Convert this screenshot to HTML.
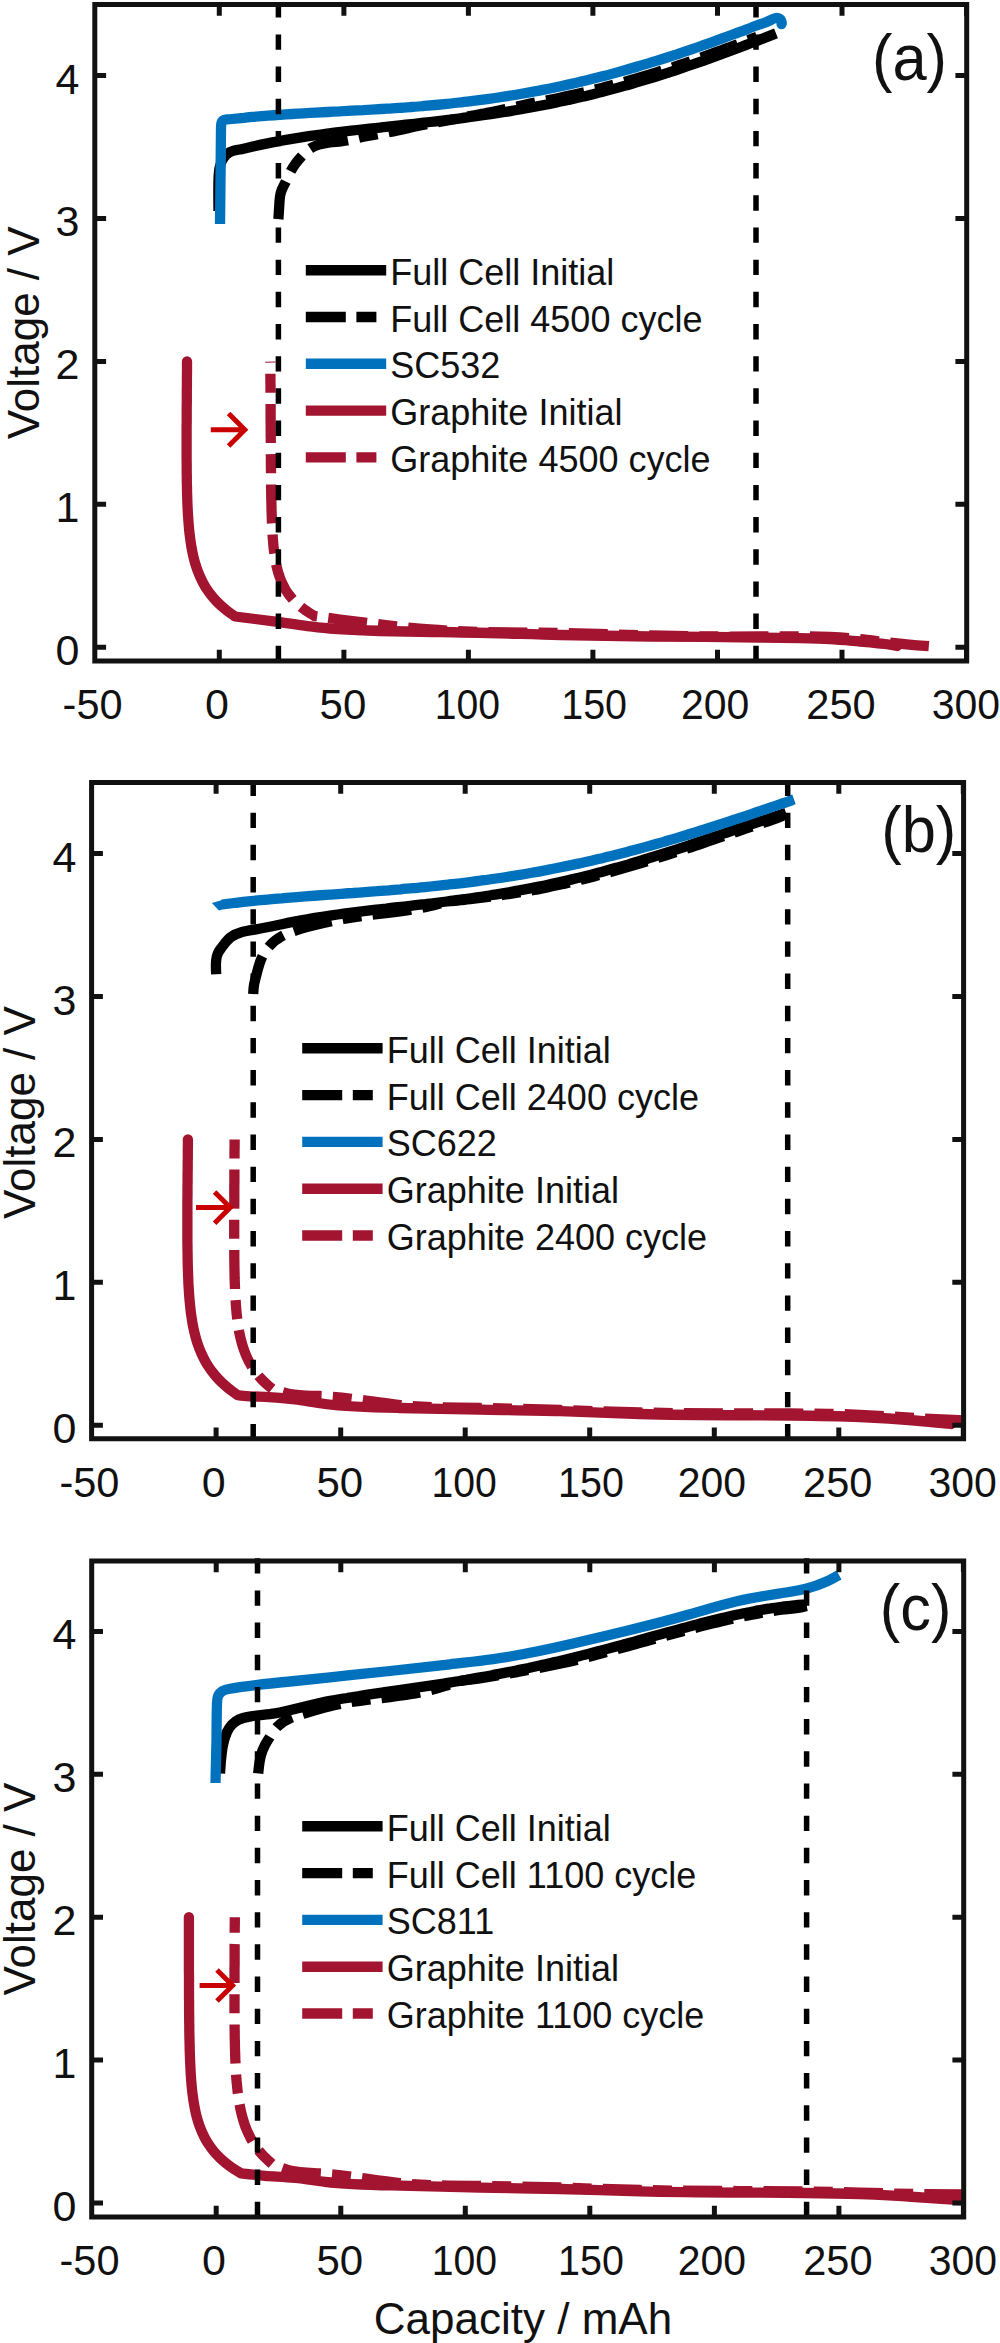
<!DOCTYPE html>
<html><head><meta charset="utf-8"><style>
html,body{margin:0;padding:0;background:#fff;}
svg{display:block;font-family:"Liberation Sans",sans-serif;}
</style></head><body>
<svg width="1000" height="2343" viewBox="0 0 1000 2343">
<rect width="1000" height="2343" fill="#fff"/>
<clipPath id="clipa"><rect x="94.8" y="4.5" width="871.9" height="656.5"/></clipPath><g clip-path="url(#clipa)" fill="none" stroke-width="10.3" stroke-linejoin="round"><path d="M218.5,211.0 C218.4,200.7 218.2,190.4 218.5,180.0 C218.6,175.3 218.8,170.5 220.0,166.0 C220.7,163.2 221.8,160.4 223.5,158.0 C225.2,155.5 227.4,153.4 230.0,152.0 C233.6,150.1 237.9,149.8 242.0,149.1 C246.1,148.4 250.1,147.2 254.1,146.2 C258.1,145.2 262.2,144.4 266.3,143.6 C270.3,142.8 274.4,142.0 278.4,141.2 C282.4,140.5 286.5,139.8 290.5,139.1 C294.6,138.4 298.6,137.8 302.7,137.1 C306.7,136.5 310.8,135.9 314.8,135.3 C318.9,134.8 322.9,134.2 327.0,133.7 C331.0,133.2 335.0,132.6 339.1,132.1 C343.1,131.6 347.2,131.2 351.2,130.7 C355.3,130.2 359.3,129.8 363.4,129.3 C367.4,128.9 371.5,128.4 375.5,128.0 C379.5,127.5 383.6,127.1 387.6,126.7 C391.7,126.2 395.7,125.8 399.8,125.4 C403.8,124.9 407.9,124.5 411.9,124.0 C416.0,123.6 420.0,123.1 424.0,122.7 C428.1,122.2 432.1,121.8 436.2,121.3 C440.2,120.8 444.3,120.4 448.3,119.9 C452.4,119.4 456.4,118.9 460.5,118.3 C464.5,117.8 468.5,117.3 472.6,116.7 C476.6,116.2 480.7,115.6 484.7,115.0 C488.8,114.4 492.8,113.8 496.9,113.2 C500.9,112.6 505.0,111.9 509.0,111.3 C513.0,110.6 517.1,109.9 521.1,109.2 C525.2,108.5 529.2,107.8 533.3,107.0 C537.3,106.3 541.4,105.5 545.4,104.7 C549.5,103.9 553.5,103.1 557.5,102.2 C561.6,101.4 565.6,100.5 569.7,99.6 C573.7,98.7 577.8,97.8 581.8,96.8 C585.9,95.9 589.9,94.9 594.0,93.9 C598.0,92.9 602.1,91.9 606.1,90.8 C610.1,89.8 614.2,88.7 618.2,87.6 C622.3,86.5 626.3,85.3 630.4,84.2 C634.4,83.0 638.5,81.8 642.5,80.6 C646.6,79.4 650.6,78.2 654.6,77.0 C658.7,75.7 662.7,74.4 666.8,73.1 C670.8,71.8 674.9,70.5 678.9,69.1 C683.0,67.8 687.0,66.4 691.0,65.0 C695.1,63.6 699.1,62.2 703.2,60.8 C707.2,59.4 711.3,57.9 715.3,56.5 C719.4,55.0 723.4,53.5 727.5,52.0 C731.5,50.5 735.6,49.0 739.6,47.5 C743.6,45.9 747.7,44.4 751.7,42.8 C755.8,41.3 759.8,39.7 763.9,38.1 C767.9,36.6 772.0,35.0 776.0,33.4" stroke="#000" stroke-linecap="butt"/><path d="M278.4,219.2 C278.7,214.5 279.0,209.8 279.3,205.0 C279.5,200.6 279.7,196.1 281.0,192.0 C282.1,188.4 284.1,185.0 285.8,181.6 C287.5,178.1 289.0,174.6 290.8,171.2 C292.3,168.3 294.1,165.6 296.0,163.0 C297.9,160.6 299.9,158.3 302.0,156.0 C304.6,153.2 307.3,150.4 310.4,148.4 C316.0,144.7 323.1,143.4 330.0,142.5 C335.8,141.8 341.4,141.4 347.0,140.4 C351.3,139.6 355.7,138.5 360.0,137.5 C369.9,135.3 380.0,133.9 390.0,132.0 C400.0,130.1 410.0,127.6 420.0,125.5 C430.0,123.5 440.0,121.9 450.0,120.0 C456.7,118.7 463.3,117.4 470.0,116.1 C474.0,115.3 478.0,114.6 482.0,113.8 C486.0,113.1 490.0,112.3 494.0,111.5 C498.0,110.6 502.0,109.8 506.0,109.0 C510.0,108.1 514.0,107.3 518.0,106.4 C522.0,105.5 526.0,104.5 530.0,103.6 C534.0,102.8 538.0,102.1 542.0,101.4 C546.0,100.6 550.0,99.8 554.0,99.0 C558.0,98.1 562.0,97.3 566.0,96.4 C570.0,95.5 574.0,94.6 578.0,93.7 C582.0,92.8 586.0,91.9 590.0,90.9 C594.0,89.9 598.0,88.9 602.0,87.9 C606.0,86.9 610.0,85.8 614.0,84.7 C618.0,83.7 622.0,82.5 626.0,81.4 C630.0,80.3 634.0,79.1 638.0,78.0 C642.0,76.8 646.0,75.6 650.0,74.4 C654.0,73.2 658.0,71.9 662.0,70.6 C666.0,69.4 670.0,68.1 674.0,66.8 C678.0,65.4 682.0,64.1 686.0,62.8 C690.0,61.4 694.0,60.0 698.0,58.6 C702.0,57.2 706.0,55.8 710.0,54.4 C714.0,52.9 718.0,51.5 722.0,50.0 C726.0,48.6 730.0,47.1 734.0,45.6 C738.0,44.1 742.0,42.6 746.0,41.0 C749.7,39.6 753.3,38.2 757.0,36.8" stroke="#000" stroke-dasharray="39 11.2 19 11.2" stroke-dashoffset="0"/><path d="M220.0,224.0 C220.2,209.3 220.3,194.7 220.5,180.0 C220.7,162.6 220.9,145.2 221.0,128.0 C221.0,126.3 221.0,124.7 221.5,123.0 C221.8,122.0 222.3,121.0 223.0,120.4 C224.0,119.6 225.6,119.5 227.0,119.4 C228.8,119.3 230.4,119.2 232.0,119.0 C235.9,118.6 239.9,118.2 244.0,117.8 C248.0,117.3 251.9,117.0 255.9,116.6 C259.9,116.3 263.9,116.0 267.9,115.7 C271.9,115.4 275.8,115.1 279.8,114.8 C283.8,114.5 287.8,114.3 291.8,114.0 C295.8,113.8 299.7,113.5 303.7,113.3 C307.7,113.1 311.7,112.8 315.7,112.6 C319.7,112.4 323.7,112.2 327.6,112.0 C331.6,111.8 335.6,111.6 339.6,111.4 C343.6,111.1 347.6,110.9 351.6,110.7 C355.5,110.5 359.5,110.3 363.5,110.1 C367.5,109.8 371.5,109.6 375.5,109.4 C379.5,109.1 383.4,108.9 387.4,108.6 C391.4,108.4 395.4,108.1 399.4,107.8 C403.4,107.6 407.3,107.3 411.3,107.0 C415.3,106.7 419.3,106.4 423.3,106.0 C427.3,105.7 431.3,105.3 435.2,105.0 C439.2,104.6 443.2,104.2 447.2,103.8 C451.2,103.4 455.2,103.0 459.2,102.5 C463.1,102.1 467.1,101.6 471.1,101.1 C475.1,100.7 479.1,100.2 483.1,99.6 C487.1,99.1 491.0,98.5 495.0,98.0 C499.0,97.4 503.0,96.8 507.0,96.2 C511.0,95.5 515.0,94.9 518.9,94.2 C522.9,93.5 526.9,92.8 530.9,92.1 C534.9,91.4 538.9,90.7 542.8,89.9 C546.8,89.1 550.8,88.3 554.8,87.5 C558.8,86.6 562.8,85.8 566.8,84.9 C570.7,84.0 574.7,83.1 578.7,82.2 C582.7,81.3 586.7,80.3 590.7,79.3 C594.7,78.3 598.6,77.3 602.6,76.3 C606.6,75.3 610.6,74.2 614.6,73.1 C618.6,72.0 622.6,70.9 626.5,69.8 C630.5,68.7 634.5,67.5 638.5,66.3 C642.5,65.2 646.5,63.9 650.4,62.7 C654.4,61.5 658.4,60.2 662.4,59.0 C666.4,57.7 670.4,56.4 674.4,55.1 C678.3,53.8 682.3,52.4 686.3,51.1 C690.3,49.7 694.3,48.4 698.3,47.0 C702.3,45.6 706.2,44.2 710.2,42.8 C714.2,41.3 718.2,39.9 722.2,38.4 C726.2,37.0 730.2,35.5 734.1,34.0 C738.1,32.6 742.1,31.1 746.1,29.6 C750.1,28.0 754.1,26.4 758.0,25.0 C762.0,23.7 765.9,22.6 770.0,20.4 C772.7,19.0 775.4,17.1 778.0,18.0 C779.6,18.6 781.2,20.2 781.5,22.0 C781.6,22.7 781.6,23.3 781.5,24.0" stroke="#0072BD" stroke-linecap="butt"/><circle cx="781.5" cy="24" r="5.15" fill="#0072BD" stroke="none"/><path d="M187.0,361.4 C187.0,363.4 187.0,365.4 187.0,367.4 C187.0,369.4 187.0,371.4 187.0,373.4 C186.9,375.4 186.9,377.4 186.9,379.4 C186.9,381.4 186.9,383.4 186.9,385.4 C186.9,387.4 186.8,389.4 186.8,391.4 C186.8,393.4 186.8,395.4 186.8,397.4 C186.8,399.4 186.8,401.4 186.8,403.4 C186.7,405.4 186.7,407.4 186.7,409.4 C186.7,411.4 186.7,413.4 186.7,415.4 C186.7,417.4 186.7,419.4 186.7,421.4 C186.7,423.4 186.6,425.4 186.6,427.4 C186.6,429.4 186.6,431.4 186.6,433.4 C186.6,435.4 186.6,437.4 186.6,439.4 C186.6,441.4 186.6,443.4 186.6,445.4 C186.6,447.4 186.6,449.4 186.6,451.4 C186.6,453.4 186.6,455.4 186.6,457.4 C186.6,459.4 186.6,461.4 186.7,463.4 C186.7,465.4 186.7,467.4 186.7,469.4 C186.7,471.4 186.7,473.4 186.8,475.4 C186.8,477.4 186.8,479.4 186.8,481.4 C186.9,483.4 186.9,485.4 187.0,487.4 C187.0,489.4 187.0,491.4 187.1,493.4 C187.2,495.4 187.2,497.4 187.3,499.4 C187.4,501.4 187.4,503.4 187.5,505.4 C187.6,507.4 187.7,509.4 187.8,511.4 C187.9,513.4 188.0,515.4 188.2,517.4 C188.3,519.4 188.4,521.4 188.6,523.4 C188.8,525.4 188.9,527.4 189.1,529.4 C189.3,531.4 189.5,533.4 189.8,535.4 C190.0,537.4 190.3,539.4 190.6,541.4 C190.9,543.4 191.2,545.4 191.5,547.4 C191.9,549.4 192.3,551.4 192.7,553.4 C193.1,555.4 193.6,557.4 194.1,559.4 C194.6,561.4 195.2,563.4 195.8,565.4 C196.5,567.4 197.1,569.4 197.9,571.4 C198.7,573.4 199.5,575.4 200.4,577.4 C201.3,579.4 202.3,581.4 203.4,583.4 C204.5,585.4 205.7,587.5 207.0,589.4 C208.4,591.5 209.8,593.5 211.4,595.4 C213.0,597.5 214.8,599.5 216.6,601.4 C218.6,603.5 220.8,605.5 223.0,607.4 C225.4,609.5 227.9,611.5 230.6,613.4 C232.1,614.5 233.6,615.5 235.1,616.5 C241.7,617.3 248.4,618.2 255.0,619.0 C262.5,619.9 270.0,620.8 277.5,621.8 C287.5,623.2 297.5,624.9 307.5,626.2 C315.0,627.2 322.5,627.9 330.0,628.5 C366.6,631.4 403.3,631.4 440.0,632.0 C480.0,632.6 520.0,634.0 560.0,635.0 C590.0,635.7 620.0,636.2 650.0,636.5 C686.7,636.9 723.3,637.0 760.0,637.5 C773.3,637.7 786.7,637.9 800.0,638.2 C810.0,638.4 820.0,638.6 830.0,639.2 C840.0,639.8 850.0,640.7 860.0,641.5 C868.4,642.2 876.7,642.8 885.0,644.0 C889.0,644.6 893.0,645.3 897.0,646.0" stroke="#A2142F" stroke-linecap="round"/><path d="M270.3,361.6 C270.4,363.6 270.4,365.6 270.4,367.6 C270.4,369.6 270.4,371.6 270.4,373.6 C270.4,375.6 270.4,377.6 270.4,379.6 C270.4,381.6 270.5,383.6 270.5,385.6 C270.5,387.6 270.5,389.6 270.5,391.6 C270.5,393.6 270.5,395.6 270.5,397.6 C270.5,399.6 270.5,401.6 270.6,403.6 C270.6,405.6 270.6,407.6 270.6,409.6 C270.6,411.6 270.6,413.6 270.6,415.6 C270.6,417.6 270.6,419.6 270.6,421.6 C270.7,423.6 270.7,425.6 270.7,427.6 C270.7,429.6 270.7,431.6 270.7,433.6 C270.7,435.6 270.7,437.6 270.8,439.6 C270.8,441.6 270.8,443.6 270.8,445.6 C270.8,447.6 270.8,449.6 270.8,451.6 C270.8,453.6 270.9,455.6 270.9,457.6 C270.9,459.6 270.9,461.6 270.9,463.6 C270.9,465.6 270.9,467.6 271.0,469.6 C271.0,471.6 271.0,473.6 271.0,475.6 C271.0,477.6 271.1,479.6 271.1,481.6 C271.1,483.6 271.1,485.6 271.1,487.6 C271.2,489.6 271.2,491.6 271.2,493.6 C271.3,495.6 271.3,497.6 271.3,499.6 C271.4,501.6 271.4,503.6 271.5,505.6 C271.5,507.6 271.5,509.6 271.6,511.6 C271.7,513.6 271.7,515.6 271.8,517.6 C271.8,519.6 271.9,521.6 272.0,523.6 C272.1,525.6 272.2,527.6 272.3,529.6 C272.4,531.6 272.5,533.6 272.6,535.6 C272.8,537.6 272.9,539.6 273.1,541.6 C273.2,543.6 273.4,545.6 273.6,547.6 C273.8,549.6 274.1,551.6 274.4,553.6 C274.6,555.6 274.9,557.6 275.3,559.6 C275.6,561.6 276.0,563.6 276.4,565.6 C276.9,567.6 277.4,569.6 277.9,571.6 C278.5,573.6 279.2,575.6 279.9,577.6 C280.6,579.6 281.4,581.6 282.4,583.6 C283.3,585.7 284.4,587.7 285.5,589.6 C286.8,591.7 288.2,593.7 289.6,595.6 C291.3,597.7 293.0,599.7 294.9,601.6 C297.1,603.7 299.3,605.7 301.7,607.6 C304.5,609.8 307.4,611.8 310.5,613.6 C311.9,614.4 313.3,615.2 314.6,616.0 C323.1,617.2 331.5,618.4 340.0,619.5 C356.6,621.7 373.3,623.7 390.0,625.6 C403.3,627.1 416.6,628.5 430.0,629.5 C473.2,632.8 516.6,632.2 560.0,633.0 C590.0,633.5 620.0,634.7 650.0,635.5 C686.7,636.4 723.3,636.7 760.0,636.5 C783.3,636.4 806.7,636.1 830.0,637.0 C840.0,637.4 850.0,638.0 860.0,639.0 C868.3,639.9 876.7,641.0 885.0,642.0 C900.6,643.9 916.3,645.2 932.0,646.5" stroke="#A2142F" stroke-dasharray="39 11.2 19 11.2" stroke-dashoffset="38"/></g><line x1="278.4" y1="2.2" x2="278.4" y2="661.0" stroke="#000" stroke-width="5.5" stroke-dasharray="15.4 16.78"/><line x1="756" y1="2.2" x2="756" y2="661.0" stroke="#000" stroke-width="5.5" stroke-dasharray="15.4 16.78"/><path d="M210.8,429.8H242.8M228.6,413.6L244.8,429.8L228.6,446.0" stroke="#C80000" stroke-width="5" fill="none" stroke-linejoin="miter"/>
<path d="M94.8,661.0V652.2M94.8,4.5V13.3M219.3,661.0V652.2M219.3,4.5V13.3M343.9,661.0V652.2M343.9,4.5V13.3M468.4,661.0V652.2M468.4,4.5V13.3M592.9,661.0V652.2M592.9,4.5V13.3M717.5,661.0V652.2M717.5,4.5V13.3M842.0,661.0V652.2M842.0,4.5V13.3M966.5,661.0V652.2M966.5,4.5V13.3M94.8,647.3H103.6M966.7,647.3H957.9M94.8,504.3H103.6M966.7,504.3H957.9M94.8,361.4H103.6M966.7,361.4H957.9M94.8,218.4H103.6M966.7,218.4H957.9M94.8,75.5H103.6M966.7,75.5H957.9M94.8,4.5H966.7V661.0H94.8Z" stroke="#111" stroke-width="5" fill="none" stroke-linecap="square"/>
<g font-size="43" fill="#111"><text transform="translate(62.60,719.0) scale(0.965,1)">-50</text><text transform="translate(205.03,719.0) scale(1.0,1)">0</text><text transform="translate(319.61,719.0) scale(0.977,1)">50</text><text transform="translate(434.78,719.0) scale(0.91,1)">100</text><text transform="translate(561.21,719.0) scale(0.918,1)">150</text><text transform="translate(680.88,719.0) scale(0.952,1)">200</text><text transform="translate(806.30,719.0) scale(0.966,1)">250</text><text transform="translate(931.74,719.0) scale(0.952,1)">300</text><text x="79.5" y="665.3" text-anchor="end">0</text><text x="79.5" y="522.3" text-anchor="end">1</text><text x="79.5" y="379.4" text-anchor="end">2</text><text x="79.5" y="236.4" text-anchor="end">3</text><text x="79.5" y="93.5" text-anchor="end">4</text></g>
<path d="M305.8,270.2H386.2" stroke="#000" stroke-width="10.4"/><text x="390.3" y="284.7" font-size="36" fill="#111">Full Cell Initial</text><path d="M305.8,317.0h40M356.40000000000003,317.0h20" stroke="#000" stroke-width="10.4"/><text x="390.3" y="331.5" font-size="36" fill="#111">Full Cell 4500 cycle</text><path d="M305.8,363.8H386.2" stroke="#0072BD" stroke-width="10.4"/><text x="390.3" y="378.3" font-size="36" fill="#111">SC532</text><path d="M305.8,410.6H386.2" stroke="#A2142F" stroke-width="10.4"/><text x="390.3" y="425.1" font-size="36" fill="#111">Graphite Initial</text><path d="M305.8,457.4h40M356.40000000000003,457.4h20" stroke="#A2142F" stroke-width="10.4"/><text x="390.3" y="471.9" font-size="36" fill="#111">Graphite 4500 cycle</text>
<text transform="translate(872.0,79.8) scale(0.96,1)" font-size="64" fill="#111">(a)</text>
<text transform="translate(38.8,332.8) rotate(-90)" text-anchor="middle" font-size="44" fill="#111">Voltage / V</text>
<clipPath id="clipb"><rect x="91.6" y="782.5" width="872.0" height="656.3"/></clipPath><g clip-path="url(#clipb)" fill="none" stroke-width="10.3" stroke-linejoin="round"><path d="M216.2,974.3 C216.0,969.9 215.7,965.5 216.1,961.0 C216.3,958.2 216.8,955.4 218.0,953.0 C218.8,951.4 219.9,949.9 221.0,948.4 C224.0,944.4 226.9,940.2 230.8,937.2 C234.1,934.7 238.0,933.1 242.0,932.0 C246.6,930.7 251.3,930.1 256.0,929.3 C263.0,928.2 270.0,926.8 277.0,925.3 C281.0,924.4 285.1,923.5 289.1,922.6 C293.1,921.8 297.2,921.0 301.2,920.3 C305.3,919.6 309.3,918.9 313.4,918.2 C317.4,917.5 321.4,916.9 325.5,916.3 C329.5,915.7 333.6,915.1 337.6,914.5 C341.6,914.0 345.7,913.4 349.7,912.9 C353.8,912.4 357.8,911.9 361.8,911.4 C365.9,910.9 369.9,910.4 374.0,909.9 C378.0,909.5 382.0,909.0 386.1,908.6 C390.1,908.1 394.2,907.6 398.2,907.2 C402.2,906.7 406.3,906.3 410.3,905.8 C414.3,905.4 418.4,904.9 422.4,904.4 C426.5,904.0 430.5,903.5 434.5,903.0 C438.6,902.5 442.6,902.0 446.7,901.5 C450.7,901.0 454.7,900.5 458.8,899.9 C462.8,899.4 466.9,898.8 470.9,898.3 C474.9,897.7 479.0,897.1 483.0,896.5 C487.1,895.9 491.1,895.2 495.1,894.6 C499.2,893.9 503.2,893.3 507.3,892.6 C511.3,891.9 515.3,891.2 519.4,890.4 C523.4,889.7 527.5,888.9 531.5,888.1 C535.5,887.3 539.6,886.5 543.6,885.7 C547.7,884.8 551.7,884.0 555.7,883.1 C559.8,882.2 563.8,881.3 567.9,880.3 C571.9,879.4 575.9,878.4 580.0,877.4 C584.0,876.4 588.1,875.4 592.1,874.4 C596.1,873.3 600.2,872.3 604.2,871.2 C608.3,870.1 612.3,869.0 616.3,867.8 C620.4,866.7 624.4,865.5 628.5,864.4 C632.5,863.2 636.5,862.0 640.6,860.7 C644.6,859.5 648.7,858.3 652.7,857.0 C656.7,855.8 660.8,854.5 664.8,853.2 C668.9,851.9 672.9,850.6 676.9,849.3 C681.0,848.0 685.0,846.6 689.0,845.3 C693.1,843.9 697.1,842.6 701.2,841.2 C705.2,839.9 709.2,838.5 713.3,837.1 C717.3,835.8 721.4,834.4 725.4,833.0 C729.4,831.7 733.5,830.3 737.5,828.9 C741.6,827.6 745.6,826.2 749.6,824.9 C753.7,823.5 757.7,822.2 761.8,820.8 C765.8,819.5 769.8,818.2 773.9,816.9 C777.9,815.6 782.0,814.3 786.0,813.0" stroke="#000" stroke-linecap="butt"/><path d="M253.2,994.0 C253.4,991.0 253.5,988.0 254.0,985.0 C254.5,982.1 255.3,979.3 256.0,976.4 C257.6,970.2 259.0,964.0 261.6,958.2 C263.4,954.2 265.7,950.4 268.6,947.0 C272.5,942.4 277.3,938.6 282.6,935.8 C285.7,934.1 289.1,932.8 292.4,931.6 C299.8,928.9 307.4,926.9 315.0,925.0 C324.9,922.5 334.9,920.3 345.0,918.6 C359.9,916.0 375.0,914.4 390.0,912.6 C403.4,911.0 416.9,909.2 430.0,906.0 C436.7,904.4 443.2,902.4 450.0,901.3 C454.0,900.7 458.0,900.4 462.0,900.0 C466.0,899.7 470.0,899.2 474.0,898.7 C478.0,898.2 482.0,897.7 486.0,897.2 C490.0,896.7 494.0,896.1 498.0,895.6 C502.0,895.0 506.0,894.5 510.0,893.9 C514.0,893.3 518.0,892.6 522.0,892.0 C526.0,891.3 530.0,890.7 534.0,890.0 C538.0,889.3 542.0,888.5 546.0,887.7 C550.0,886.9 554.0,886.0 558.0,885.1 C562.0,884.2 566.0,883.3 570.0,882.3 C574.0,881.4 578.0,880.4 582.0,879.4 C586.0,878.4 590.0,877.4 594.0,876.4 C598.0,875.3 602.0,874.3 606.0,873.2 C610.0,872.1 614.0,871.0 618.0,869.9 C622.0,868.7 626.0,867.6 630.0,866.4 C634.0,865.2 638.0,864.0 642.0,862.8 C646.0,861.6 650.0,860.4 654.0,859.1 C658.0,857.9 662.0,856.6 666.0,855.3 C670.0,854.0 674.0,852.7 678.0,851.4 C682.0,850.1 686.0,848.8 690.0,847.5 C694.0,846.1 698.0,844.8 702.0,843.5 C706.0,842.1 710.0,840.8 714.0,839.4 C718.0,838.1 722.0,836.7 726.0,835.3 C730.0,834.0 734.0,832.6 738.0,831.3 C742.0,829.9 746.0,828.6 750.0,827.2 C754.0,825.9 758.0,824.5 762.0,823.2 C766.0,822.0 770.1,820.8 774.0,819.3 C778.1,817.8 782.0,815.9 786.0,814.0" stroke="#000" stroke-dasharray="39 11.2 19 11.2" stroke-dashoffset="0"/><path d="M222.0,904.5 C226.0,904.0 229.9,903.5 233.9,903.0 C237.9,902.5 241.9,902.1 245.8,901.6 C249.8,901.2 253.8,900.8 257.8,900.4 C261.7,900.0 265.7,899.7 269.7,899.3 C273.6,898.9 277.6,898.6 281.6,898.3 C285.6,897.9 289.5,897.6 293.5,897.3 C297.5,897.0 301.4,896.7 305.4,896.4 C309.4,896.1 313.4,895.8 317.3,895.5 C321.3,895.2 325.3,894.9 329.2,894.6 C333.2,894.4 337.2,894.1 341.2,893.8 C345.1,893.5 349.1,893.2 353.1,893.0 C357.1,892.7 361.0,892.4 365.0,892.1 C369.0,891.8 372.9,891.5 376.9,891.2 C380.9,890.9 384.9,890.6 388.8,890.3 C392.8,889.9 396.8,889.6 400.8,889.3 C404.7,888.9 408.7,888.6 412.7,888.2 C416.6,887.9 420.6,887.5 424.6,887.1 C428.6,886.7 432.5,886.3 436.5,885.9 C440.5,885.5 444.4,885.1 448.4,884.6 C452.4,884.2 456.4,883.7 460.3,883.3 C464.3,882.8 468.3,882.3 472.2,881.8 C476.2,881.3 480.2,880.8 484.2,880.2 C488.1,879.7 492.1,879.1 496.1,878.5 C500.1,878.0 504.0,877.4 508.0,876.7 C512.0,876.1 515.9,875.5 519.9,874.8 C523.9,874.2 527.9,873.5 531.8,872.8 C535.8,872.1 539.8,871.4 543.8,870.6 C547.7,869.9 551.7,869.1 555.7,868.3 C559.6,867.5 563.6,866.7 567.6,865.9 C571.6,865.1 575.5,864.2 579.5,863.4 C583.5,862.5 587.4,861.6 591.4,860.7 C595.4,859.8 599.4,858.8 603.3,857.9 C607.3,856.9 611.3,856.0 615.2,855.0 C619.2,854.0 623.2,852.9 627.2,851.9 C631.1,850.9 635.1,849.8 639.1,848.8 C643.1,847.7 647.0,846.6 651.0,845.5 C655.0,844.4 658.9,843.2 662.9,842.1 C666.9,840.9 670.9,839.8 674.8,838.6 C678.8,837.4 682.8,836.2 686.8,835.0 C690.7,833.8 694.7,832.5 698.7,831.3 C702.6,830.1 706.6,828.8 710.6,827.5 C714.6,826.3 718.5,825.0 722.5,823.7 C726.5,822.4 730.4,821.1 734.4,819.7 C738.4,818.4 742.4,817.1 746.3,815.8 C750.3,814.4 754.3,813.1 758.2,811.7 C762.2,810.4 766.2,809.0 770.2,807.6 C774.1,806.3 778.1,804.9 782.1,803.5 C786.1,802.2 790.0,800.8 794.0,799.4" stroke="#0072BD" stroke-linecap="butt"/><polygon points="211.9,902.9 218.9,910.6 223,909.3 223,899.8" fill="#0072BD" stroke="none"/><path d="M187.9,1139.4 C187.9,1141.4 187.9,1143.4 187.9,1145.4 C187.9,1147.4 187.8,1149.4 187.8,1151.4 C187.8,1153.4 187.8,1155.4 187.8,1157.4 C187.8,1159.4 187.7,1161.4 187.7,1163.4 C187.7,1165.4 187.7,1167.4 187.7,1169.4 C187.6,1171.4 187.6,1173.4 187.6,1175.4 C187.6,1177.4 187.6,1179.4 187.6,1181.4 C187.6,1183.4 187.5,1185.4 187.5,1187.4 C187.5,1189.4 187.5,1191.4 187.5,1193.4 C187.5,1195.4 187.5,1197.4 187.4,1199.4 C187.4,1201.4 187.4,1203.4 187.4,1205.4 C187.4,1207.4 187.4,1209.4 187.4,1211.4 C187.4,1213.4 187.4,1215.4 187.4,1217.4 C187.4,1219.4 187.4,1221.4 187.4,1223.4 C187.4,1225.4 187.4,1227.4 187.4,1229.4 C187.4,1231.4 187.4,1233.4 187.4,1235.4 C187.4,1237.4 187.4,1239.4 187.4,1241.4 C187.4,1243.4 187.5,1245.4 187.5,1247.4 C187.5,1249.4 187.5,1251.4 187.6,1253.4 C187.6,1255.4 187.6,1257.4 187.7,1259.4 C187.7,1261.4 187.7,1263.4 187.8,1265.4 C187.8,1267.4 187.9,1269.4 188.0,1271.4 C188.0,1273.4 188.1,1275.4 188.2,1277.4 C188.3,1279.4 188.3,1281.4 188.4,1283.4 C188.5,1285.4 188.7,1287.4 188.8,1289.4 C188.9,1291.4 189.0,1293.4 189.2,1295.4 C189.3,1297.4 189.5,1299.4 189.7,1301.4 C189.9,1303.4 190.1,1305.4 190.3,1307.4 C190.5,1309.4 190.7,1311.4 191.0,1313.4 C191.3,1315.4 191.6,1317.4 191.9,1319.4 C192.2,1321.4 192.5,1323.4 192.9,1325.4 C193.3,1327.4 193.7,1329.4 194.2,1331.4 C194.7,1333.4 195.2,1335.4 195.7,1337.4 C196.3,1339.4 196.9,1341.4 197.5,1343.4 C198.2,1345.4 198.9,1347.4 199.7,1349.4 C200.5,1351.4 201.3,1353.4 202.3,1355.4 C203.2,1357.4 204.3,1359.4 205.4,1361.4 C206.5,1363.4 207.7,1365.4 209.1,1367.4 C210.4,1369.5 211.9,1371.5 213.5,1373.4 C215.1,1375.5 216.9,1377.5 218.7,1379.4 C220.7,1381.5 222.8,1383.5 225.0,1385.4 C227.3,1387.5 229.8,1389.5 232.4,1391.4 C234.2,1392.7 236.0,1394.0 237.8,1395.2 C241.9,1395.6 245.9,1396.1 250.0,1396.3 C255.0,1396.6 260.0,1396.6 265.0,1396.8 C275.0,1397.2 285.0,1398.1 295.0,1399.5 C305.0,1400.9 315.0,1402.7 325.0,1404.0 C349.8,1407.3 374.9,1407.6 400.0,1408.0 C426.7,1408.5 453.3,1409.1 480.0,1409.6 C506.7,1410.1 533.3,1410.4 560.0,1411.2 C586.7,1412.0 613.3,1413.2 640.0,1414.0 C690.0,1415.4 740.0,1415.1 790.0,1415.5 C813.3,1415.7 836.7,1416.0 860.0,1417.0 C878.4,1417.8 896.7,1418.9 915.0,1420.5 C927.0,1421.5 939.0,1422.8 951.0,1424.0" stroke="#A2142F" stroke-linecap="round"/><path d="M234.6,1139.4 C234.6,1141.4 234.6,1143.4 234.6,1145.4 C234.6,1147.4 234.6,1149.4 234.5,1151.4 C234.5,1153.4 234.5,1155.4 234.5,1157.4 C234.5,1159.4 234.5,1161.4 234.5,1163.4 C234.5,1165.4 234.5,1167.4 234.4,1169.4 C234.4,1171.4 234.4,1173.4 234.4,1175.4 C234.4,1177.4 234.4,1179.4 234.4,1181.4 C234.4,1183.4 234.3,1185.4 234.3,1187.4 C234.3,1189.4 234.3,1191.4 234.3,1193.4 C234.3,1195.4 234.3,1197.4 234.3,1199.4 C234.3,1201.4 234.3,1203.4 234.3,1205.4 C234.2,1207.4 234.2,1209.4 234.2,1211.4 C234.2,1213.4 234.2,1215.4 234.2,1217.4 C234.2,1219.4 234.2,1221.4 234.2,1223.4 C234.2,1225.4 234.2,1227.4 234.2,1229.4 C234.2,1231.4 234.2,1233.4 234.2,1235.4 C234.2,1237.4 234.2,1239.4 234.2,1241.4 C234.2,1243.4 234.2,1245.4 234.2,1247.4 C234.3,1249.4 234.3,1251.4 234.3,1253.4 C234.3,1255.4 234.3,1257.4 234.3,1259.4 C234.4,1261.4 234.4,1263.4 234.4,1265.4 C234.4,1267.4 234.5,1269.4 234.5,1271.4 C234.6,1273.4 234.6,1275.4 234.6,1277.4 C234.7,1279.4 234.8,1281.4 234.8,1283.4 C234.9,1285.4 235.0,1287.4 235.0,1289.4 C235.1,1291.4 235.2,1293.4 235.3,1295.4 C235.4,1297.4 235.5,1299.4 235.7,1301.4 C235.8,1303.4 235.9,1305.4 236.1,1307.4 C236.3,1309.4 236.4,1311.4 236.6,1313.4 C236.8,1315.4 237.1,1317.4 237.3,1319.4 C237.6,1321.4 237.8,1323.4 238.1,1325.4 C238.4,1327.4 238.8,1329.4 239.1,1331.4 C239.5,1333.4 239.9,1335.4 240.4,1337.4 C240.8,1339.4 241.4,1341.4 241.9,1343.4 C242.5,1345.4 243.1,1347.4 243.8,1349.4 C244.5,1351.4 245.2,1353.4 246.1,1355.4 C246.9,1357.4 247.9,1359.4 248.9,1361.4 C250.0,1363.4 251.1,1365.5 252.3,1367.4 C253.6,1369.5 255.1,1371.5 256.6,1373.4 C258.2,1375.5 259.9,1377.5 261.7,1379.4 C263.7,1381.5 265.8,1383.5 268.0,1385.4 C269.4,1386.6 270.9,1387.8 272.4,1389.0 C278.2,1390.9 284.1,1392.9 290.0,1394.0 C299.8,1395.9 309.9,1395.6 320.0,1396.0 C347.0,1397.0 373.3,1402.3 400.0,1405.0 C426.5,1407.6 453.3,1407.6 480.0,1408.0 C506.7,1408.4 533.3,1409.1 560.0,1410.0 C586.7,1410.9 613.3,1411.9 640.0,1412.5 C690.0,1413.6 740.0,1413.3 790.0,1413.5 C813.3,1413.6 836.7,1413.8 860.0,1414.8 C878.3,1415.6 896.7,1416.9 915.0,1418.0 C932.0,1419.0 949.0,1419.7 966.0,1420.5" stroke="#A2142F" stroke-dasharray="39 11.2 19 11.2" stroke-dashoffset="50.2"/></g><line x1="253.2" y1="780.5" x2="253.2" y2="1438.8" stroke="#000" stroke-width="5.5" stroke-dasharray="15.4 16.78"/><line x1="787.7" y1="780.5" x2="787.7" y2="1438.8" stroke="#000" stroke-width="5.5" stroke-dasharray="15.4 16.78"/><path d="M196,1207.6H228.2M214.6,1192.0L230.2,1207.6L214.6,1223.1999999999998" stroke="#C80000" stroke-width="5" fill="none" stroke-linejoin="miter"/>
<path d="M91.6,1438.8V1430.0M91.6,782.5V791.3M216.1,1438.8V1430.0M216.1,782.5V791.3M340.7,1438.8V1430.0M340.7,782.5V791.3M465.2,1438.8V1430.0M465.2,782.5V791.3M589.7,1438.8V1430.0M589.7,782.5V791.3M714.3,1438.8V1430.0M714.3,782.5V791.3M838.8,1438.8V1430.0M838.8,782.5V791.3M963.3,1438.8V1430.0M963.3,782.5V791.3M91.6,1425.2H100.4M963.6,1425.2H954.8M91.6,1282.3H100.4M963.6,1282.3H954.8M91.6,1139.4H100.4M963.6,1139.4H954.8M91.6,996.5H100.4M963.6,996.5H954.8M91.6,853.6H100.4M963.6,853.6H954.8M91.6,782.5H963.6V1438.8H91.6Z" stroke="#111" stroke-width="5" fill="none" stroke-linecap="square"/>
<g font-size="43" fill="#111"><text transform="translate(59.40,1496.8) scale(0.965,1)">-50</text><text transform="translate(201.83,1496.8) scale(1.0,1)">0</text><text transform="translate(316.41,1496.8) scale(0.977,1)">50</text><text transform="translate(431.58,1496.8) scale(0.91,1)">100</text><text transform="translate(558.01,1496.8) scale(0.918,1)">150</text><text transform="translate(677.68,1496.8) scale(0.952,1)">200</text><text transform="translate(803.10,1496.8) scale(0.966,1)">250</text><text transform="translate(928.54,1496.8) scale(0.952,1)">300</text><text x="76.3" y="1443.2" text-anchor="end">0</text><text x="76.3" y="1300.3" text-anchor="end">1</text><text x="76.3" y="1157.4" text-anchor="end">2</text><text x="76.3" y="1014.5" text-anchor="end">3</text><text x="76.3" y="871.6" text-anchor="end">4</text></g>
<path d="M302.2,1048.3H382.6" stroke="#000" stroke-width="10.4"/><text x="386.8" y="1062.8" font-size="36" fill="#111">Full Cell Initial</text><path d="M302.2,1095.1h40M352.8,1095.1h20" stroke="#000" stroke-width="10.4"/><text x="386.8" y="1109.6" font-size="36" fill="#111">Full Cell 2400 cycle</text><path d="M302.2,1141.9H382.6" stroke="#0072BD" stroke-width="10.4"/><text x="386.8" y="1156.4" font-size="36" fill="#111">SC622</text><path d="M302.2,1188.7H382.6" stroke="#A2142F" stroke-width="10.4"/><text x="386.8" y="1203.2" font-size="36" fill="#111">Graphite Initial</text><path d="M302.2,1235.5h40M352.8,1235.5h20" stroke="#A2142F" stroke-width="10.4"/><text x="386.8" y="1250.0" font-size="36" fill="#111">Graphite 2400 cycle</text>
<text transform="translate(881.2,852.0) scale(0.96,1)" font-size="64" fill="#111">(b)</text>
<text transform="translate(35.3,1112.5) rotate(-90)" text-anchor="middle" font-size="44" fill="#111">Voltage / V</text>
<clipPath id="clipc"><rect x="91.7" y="1561.0" width="872.0" height="656.0"/></clipPath><g clip-path="url(#clipc)" fill="none" stroke-width="10.3" stroke-linejoin="round"><path d="M220.0,1773.5 C220.3,1769.0 220.6,1764.5 221.0,1760.0 C221.5,1755.0 222.0,1750.0 223.0,1745.0 C223.9,1740.5 225.1,1736.1 227.0,1732.0 C228.3,1729.3 229.9,1726.7 232.0,1724.5 C234.0,1722.4 236.4,1720.7 239.0,1719.5 C242.7,1717.7 246.9,1716.9 251.0,1716.3 C259.0,1715.1 267.1,1714.5 275.0,1713.3 C283.1,1712.0 291.1,1710.0 299.0,1708.0 C307.0,1705.9 314.9,1703.8 323.0,1702.2 C327.0,1701.4 331.1,1700.7 335.1,1700.0 C339.1,1699.3 343.2,1698.6 347.2,1698.0 C351.2,1697.3 355.3,1696.7 359.3,1696.1 C363.3,1695.4 367.3,1694.8 371.4,1694.2 C375.4,1693.6 379.4,1693.0 383.5,1692.4 C387.5,1691.8 391.5,1691.3 395.6,1690.7 C399.6,1690.1 403.6,1689.5 407.7,1688.9 C411.7,1688.3 415.7,1687.7 419.8,1687.1 C423.8,1686.5 427.8,1685.9 431.9,1685.3 C435.9,1684.7 439.9,1684.1 443.9,1683.5 C448.0,1682.8 452.0,1682.2 456.0,1681.5 C460.1,1680.9 464.1,1680.2 468.1,1679.5 C472.2,1678.9 476.2,1678.2 480.2,1677.4 C484.3,1676.7 488.3,1676.0 492.3,1675.2 C496.4,1674.5 500.4,1673.7 504.4,1672.9 C508.5,1672.1 512.5,1671.3 516.5,1670.5 C520.6,1669.7 524.6,1668.8 528.6,1668.0 C532.7,1667.1 536.7,1666.2 540.7,1665.3 C544.7,1664.4 548.8,1663.5 552.8,1662.5 C556.8,1661.6 560.9,1660.7 564.9,1659.7 C568.9,1658.7 573.0,1657.7 577.0,1656.7 C581.0,1655.7 585.1,1654.7 589.1,1653.6 C593.1,1652.6 597.2,1651.5 601.2,1650.5 C605.2,1649.4 609.3,1648.3 613.3,1647.2 C617.3,1646.2 621.3,1645.1 625.4,1644.0 C629.4,1642.9 633.4,1641.8 637.5,1640.6 C641.5,1639.5 645.5,1638.4 649.6,1637.3 C653.6,1636.2 657.6,1635.1 661.7,1634.0 C665.7,1632.8 669.7,1631.7 673.8,1630.6 C677.8,1629.5 681.8,1628.4 685.8,1627.4 C689.9,1626.3 693.9,1625.2 697.9,1624.2 C702.0,1623.1 706.0,1622.1 710.0,1621.1 C714.1,1620.1 718.1,1619.1 722.1,1618.1 C726.2,1617.2 730.2,1616.2 734.2,1615.3 C738.3,1614.4 742.3,1613.6 746.3,1612.8 C750.3,1611.9 754.4,1611.2 758.4,1610.4 C762.4,1609.7 766.5,1609.0 770.5,1608.4 C774.5,1607.7 778.6,1607.2 782.6,1606.7 C786.6,1606.1 790.7,1605.7 794.7,1605.3 C798.7,1604.9 802.8,1604.7 806.8,1604.4" stroke="#000" stroke-linecap="butt"/><path d="M258.2,1773.5 C258.8,1767.3 259.3,1761.0 261.0,1755.0 C262.0,1751.5 263.3,1748.2 265.0,1745.0 C266.4,1742.4 267.9,1740.0 269.5,1737.5 C271.8,1733.8 274.1,1730.1 277.0,1727.0 C280.7,1723.1 285.5,1720.1 290.5,1718.0 C294.4,1716.3 298.5,1715.2 302.5,1714.0 C313.3,1710.8 324.0,1707.4 335.0,1705.0 C343.2,1703.2 351.6,1701.9 360.0,1700.8 C376.7,1698.6 393.4,1696.9 410.0,1694.2 C421.8,1692.3 433.6,1689.9 445.0,1686.0 C450.0,1684.3 454.9,1682.3 460.0,1681.1 C463.9,1680.3 468.0,1679.9 472.0,1679.4 C476.0,1678.9 480.0,1678.3 484.0,1677.6 C488.0,1677.0 492.0,1676.3 496.0,1675.7 C500.0,1675.0 504.0,1674.4 508.0,1673.7 C512.0,1673.0 516.0,1672.3 520.0,1671.5 C524.0,1670.8 528.0,1670.1 532.0,1669.3 C536.0,1668.5 540.0,1667.7 544.0,1666.9 C548.0,1666.1 552.0,1665.3 556.0,1664.5 C560.0,1663.6 564.0,1662.8 568.0,1661.9 C572.0,1661.0 576.0,1660.0 580.0,1658.9 C584.0,1657.9 588.0,1656.9 592.0,1655.9 C596.0,1654.8 600.0,1653.8 604.0,1652.7 C608.0,1651.7 612.0,1650.6 616.0,1649.5 C620.0,1648.4 624.0,1647.3 628.0,1646.2 C632.0,1645.2 636.0,1644.0 640.0,1642.9 C644.0,1641.8 648.0,1640.7 652.0,1639.6 C656.0,1638.5 660.0,1637.4 664.0,1636.3 C668.0,1635.2 672.0,1634.1 676.0,1633.0 C680.0,1631.9 684.0,1630.9 688.0,1629.8 C692.0,1628.7 696.0,1627.7 700.0,1626.6 C704.0,1625.6 708.0,1624.6 712.0,1623.6 C716.0,1622.6 720.0,1621.6 724.0,1620.7 C728.0,1619.7 732.0,1618.8 736.0,1617.9 C740.0,1617.1 744.0,1616.2 748.0,1615.4 C752.0,1614.6 756.0,1613.8 760.0,1613.1 C764.0,1612.4 768.0,1611.8 772.0,1611.1 C776.0,1610.5 780.0,1609.9 784.0,1609.5 C788.0,1609.1 792.0,1608.8 796.0,1608.2 C799.5,1607.6 803.0,1606.8 806.5,1605.9" stroke="#000" stroke-dasharray="39 11.2 19 11.2" stroke-dashoffset="0"/><path d="M215.5,1783.0 C215.9,1768.6 216.3,1754.2 216.5,1740.0 C216.6,1727.8 216.6,1715.6 217.0,1703.0 C217.1,1700.4 217.2,1697.8 218.3,1695.5 C219.1,1693.8 220.4,1692.3 222.0,1691.3 C224.3,1689.7 227.2,1689.2 230.0,1688.7 C238.8,1687.1 247.4,1686.0 256.0,1685.0 C267.3,1683.7 278.6,1682.6 290.0,1681.5 C303.4,1680.2 316.7,1678.7 330.0,1677.3 C350.0,1675.2 370.0,1673.2 390.0,1671.0 C410.0,1668.8 430.0,1666.6 450.0,1664.3 C470.0,1662.0 490.1,1659.8 510.0,1656.5 C530.1,1653.2 550.1,1648.9 570.0,1644.3 C590.1,1639.7 610.0,1634.9 630.0,1630.0 C650.1,1625.1 670.1,1620.0 690.0,1614.3 C706.0,1609.7 721.8,1604.7 738.0,1601.0 C753.8,1597.4 769.9,1595.1 786.0,1592.5 C793.0,1591.4 799.9,1590.2 806.8,1588.5 C813.4,1586.8 819.8,1584.6 826.0,1581.8 C830.4,1579.8 834.7,1577.4 839.0,1575.0" stroke="#0072BD" stroke-linecap="butt"/><path d="M188.9,1917.2 C188.9,1919.2 188.9,1921.2 188.9,1923.2 C188.9,1925.2 188.9,1927.2 188.9,1929.2 C188.9,1931.2 188.9,1933.2 188.9,1935.2 C188.9,1937.2 188.9,1939.2 188.9,1941.2 C188.9,1943.2 188.9,1945.2 188.9,1947.2 C188.9,1949.2 188.9,1951.2 188.9,1953.2 C188.9,1955.2 188.9,1957.2 188.9,1959.2 C188.9,1961.2 188.9,1963.2 188.9,1965.2 C188.9,1967.2 188.9,1969.2 188.9,1971.2 C189.0,1973.2 189.0,1975.2 189.0,1977.2 C189.0,1979.2 189.0,1981.2 189.0,1983.2 C189.0,1985.2 189.0,1987.2 189.0,1989.2 C189.0,1991.2 189.0,1993.2 189.0,1995.2 C189.0,1997.2 189.0,1999.2 189.1,2001.2 C189.1,2003.2 189.1,2005.2 189.1,2007.2 C189.1,2009.2 189.1,2011.2 189.1,2013.2 C189.2,2015.2 189.2,2017.2 189.2,2019.2 C189.2,2021.2 189.2,2023.2 189.3,2025.2 C189.3,2027.2 189.3,2029.2 189.3,2031.2 C189.4,2033.2 189.4,2035.2 189.4,2037.2 C189.5,2039.2 189.5,2041.2 189.6,2043.2 C189.6,2045.2 189.7,2047.2 189.7,2049.2 C189.8,2051.2 189.8,2053.2 189.9,2055.2 C190.0,2057.2 190.0,2059.2 190.1,2061.2 C190.2,2063.2 190.3,2065.2 190.4,2067.2 C190.5,2069.2 190.6,2071.2 190.7,2073.2 C190.8,2075.2 191.0,2077.2 191.1,2079.2 C191.3,2081.2 191.4,2083.2 191.6,2085.2 C191.8,2087.2 192.0,2089.2 192.2,2091.2 C192.4,2093.2 192.7,2095.2 193.0,2097.2 C193.2,2099.2 193.5,2101.2 193.9,2103.2 C194.2,2105.2 194.6,2107.2 195.0,2109.2 C195.4,2111.2 195.8,2113.2 196.3,2115.2 C196.8,2117.2 197.4,2119.2 198.0,2121.2 C198.6,2123.2 199.3,2125.2 200.0,2127.2 C200.8,2129.2 201.6,2131.2 202.5,2133.2 C203.4,2135.2 204.4,2137.2 205.5,2139.2 C206.7,2141.3 207.9,2143.3 209.2,2145.2 C210.6,2147.3 212.1,2149.3 213.7,2151.2 C215.5,2153.3 217.3,2155.3 219.2,2157.2 C221.4,2159.3 223.7,2161.3 226.0,2163.2 C228.6,2165.3 231.4,2167.3 234.2,2169.2 C236.4,2170.6 238.7,2172.0 240.9,2173.3 C248.9,2174.2 257.0,2175.1 265.0,2175.8 C275.0,2176.6 285.0,2177.0 295.0,2178.0 C305.0,2179.0 315.0,2180.6 325.0,2181.8 C349.9,2184.7 374.9,2185.0 400.0,2185.6 C426.7,2186.2 453.3,2187.2 480.0,2187.7 C506.7,2188.2 533.3,2188.4 560.0,2189.0 C586.7,2189.6 613.3,2190.7 640.0,2191.4 C695.0,2192.8 750.0,2192.4 805.0,2193.0 C823.3,2193.2 841.7,2193.5 860.0,2194.2 C878.3,2194.9 896.7,2195.8 915.0,2197.0 C932.0,2198.1 949.0,2199.3 966.0,2200.5" stroke="#A2142F" stroke-linecap="round"/><path d="M234.8,1917.2 C234.8,1919.2 234.8,1921.2 234.8,1923.2 C234.8,1925.2 234.7,1927.2 234.7,1929.2 C234.7,1931.2 234.7,1933.2 234.7,1935.2 C234.7,1937.2 234.7,1939.2 234.7,1941.2 C234.7,1943.2 234.6,1945.2 234.6,1947.2 C234.6,1949.2 234.6,1951.2 234.6,1953.2 C234.6,1955.2 234.6,1957.2 234.6,1959.2 C234.6,1961.2 234.6,1963.2 234.6,1965.2 C234.5,1967.2 234.5,1969.2 234.5,1971.2 C234.5,1973.2 234.5,1975.2 234.5,1977.2 C234.5,1979.2 234.5,1981.2 234.5,1983.2 C234.5,1985.2 234.5,1987.2 234.5,1989.2 C234.5,1991.2 234.5,1993.2 234.5,1995.2 C234.5,1997.2 234.5,1999.2 234.5,2001.2 C234.5,2003.2 234.5,2005.2 234.5,2007.2 C234.5,2009.2 234.5,2011.2 234.5,2013.2 C234.5,2015.2 234.5,2017.2 234.6,2019.2 C234.6,2021.2 234.6,2023.2 234.6,2025.2 C234.6,2027.2 234.6,2029.2 234.7,2031.2 C234.7,2033.2 234.7,2035.2 234.7,2037.2 C234.8,2039.2 234.8,2041.2 234.9,2043.2 C234.9,2045.2 234.9,2047.2 235.0,2049.2 C235.1,2051.2 235.1,2053.2 235.2,2055.2 C235.2,2057.2 235.3,2059.2 235.4,2061.2 C235.5,2063.2 235.6,2065.2 235.7,2067.2 C235.8,2069.2 235.9,2071.2 236.0,2073.2 C236.1,2075.2 236.3,2077.2 236.4,2079.2 C236.6,2081.2 236.8,2083.2 237.0,2085.2 C237.2,2087.2 237.4,2089.2 237.6,2091.2 C237.8,2093.2 238.1,2095.2 238.4,2097.2 C238.7,2099.2 239.0,2101.2 239.3,2103.2 C239.7,2105.2 240.1,2107.2 240.5,2109.2 C240.9,2111.2 241.4,2113.2 241.9,2115.2 C242.4,2117.2 243.0,2119.2 243.6,2121.2 C244.2,2123.2 244.9,2125.2 245.6,2127.2 C246.4,2129.2 247.2,2131.2 248.2,2133.2 C249.1,2135.2 250.1,2137.2 251.2,2139.2 C252.3,2141.3 253.6,2143.3 254.9,2145.2 C256.3,2147.3 257.8,2149.3 259.3,2151.2 C261.0,2153.3 262.8,2155.3 264.7,2157.2 C266.8,2159.3 269.0,2161.3 271.3,2163.2 C271.8,2163.6 272.3,2164.1 272.9,2164.5 C278.5,2166.8 284.2,2169.1 290.0,2170.5 C299.7,2172.9 309.9,2172.9 320.0,2173.5 C347.0,2175.0 373.3,2180.3 400.0,2183.0 C426.5,2185.7 453.3,2185.7 480.0,2186.0 C506.7,2186.3 533.3,2186.7 560.0,2187.5 C586.7,2188.3 613.3,2189.4 640.0,2190.0 C695.0,2191.3 750.0,2190.8 805.0,2191.5 C823.3,2191.7 841.7,2192.1 860.0,2192.6 C878.3,2193.1 896.7,2193.7 915.0,2194.0 C932.0,2194.3 949.0,2194.4 966.0,2194.5" stroke="#A2142F" stroke-dasharray="39 11.2 19 11.2" stroke-dashoffset="53.6"/></g><line x1="257.5" y1="1558.2" x2="257.5" y2="2217.0" stroke="#000" stroke-width="5.5" stroke-dasharray="15.4 16.78"/><line x1="806.6" y1="1558.2" x2="806.6" y2="2217.0" stroke="#000" stroke-width="5.5" stroke-dasharray="15.4 16.78"/><path d="M199.6,1985.5H230.6M217.0,1969.9L232.6,1985.5L217.0,2001.1" stroke="#C80000" stroke-width="5" fill="none" stroke-linejoin="miter"/>
<path d="M91.7,2217.0V2208.2M91.7,1561.0V1569.8M216.2,2217.0V2208.2M216.2,1561.0V1569.8M340.8,2217.0V2208.2M340.8,1561.0V1569.8M465.3,2217.0V2208.2M465.3,1561.0V1569.8M589.8,2217.0V2208.2M589.8,1561.0V1569.8M714.4,2217.0V2208.2M714.4,1561.0V1569.8M838.9,2217.0V2208.2M838.9,1561.0V1569.8M963.4,2217.0V2208.2M963.4,1561.0V1569.8M91.7,2203.0H100.5M963.7,2203.0H954.9M91.7,2060.1H100.5M963.7,2060.1H954.9M91.7,1917.2H100.5M963.7,1917.2H954.9M91.7,1774.3H100.5M963.7,1774.3H954.9M91.7,1631.4H100.5M963.7,1631.4H954.9M91.7,1561.0H963.7V2217.0H91.7Z" stroke="#111" stroke-width="5" fill="none" stroke-linecap="square"/>
<g font-size="43" fill="#111"><text transform="translate(59.50,2275.0) scale(0.965,1)">-50</text><text transform="translate(201.93,2275.0) scale(1.0,1)">0</text><text transform="translate(316.51,2275.0) scale(0.977,1)">50</text><text transform="translate(431.68,2275.0) scale(0.91,1)">100</text><text transform="translate(558.11,2275.0) scale(0.918,1)">150</text><text transform="translate(677.78,2275.0) scale(0.952,1)">200</text><text transform="translate(803.20,2275.0) scale(0.966,1)">250</text><text transform="translate(928.64,2275.0) scale(0.952,1)">300</text><text x="76.4" y="2221.0" text-anchor="end">0</text><text x="76.4" y="2078.1" text-anchor="end">1</text><text x="76.4" y="1935.2" text-anchor="end">2</text><text x="76.4" y="1792.3" text-anchor="end">3</text><text x="76.4" y="1649.4" text-anchor="end">4</text></g>
<path d="M302.2,1826.3H382.6" stroke="#000" stroke-width="10.4"/><text x="386.8" y="1840.8" font-size="36" fill="#111">Full Cell Initial</text><path d="M302.2,1873.1h40M352.8,1873.1h20" stroke="#000" stroke-width="10.4"/><text x="386.8" y="1887.6" font-size="36" fill="#111">Full Cell 1100 cycle</text><path d="M302.2,1919.9H382.6" stroke="#0072BD" stroke-width="10.4"/><text x="386.8" y="1934.4" font-size="36" fill="#111">SC811</text><path d="M302.2,1966.7H382.6" stroke="#A2142F" stroke-width="10.4"/><text x="386.8" y="1981.2" font-size="36" fill="#111">Graphite Initial</text><path d="M302.2,2013.5h40M352.8,2013.5h20" stroke="#A2142F" stroke-width="10.4"/><text x="386.8" y="2028.0" font-size="36" fill="#111">Graphite 1100 cycle</text>
<text transform="translate(879.8,1629.7) scale(0.96,1)" font-size="64" fill="#111">(c)</text>
<text transform="translate(35.4,1889.0) rotate(-90)" text-anchor="middle" font-size="44" fill="#111">Voltage / V</text>
<text x="523" y="2333.5" text-anchor="middle" font-size="44" fill="#111">Capacity / mAh</text>
</svg></body></html>
